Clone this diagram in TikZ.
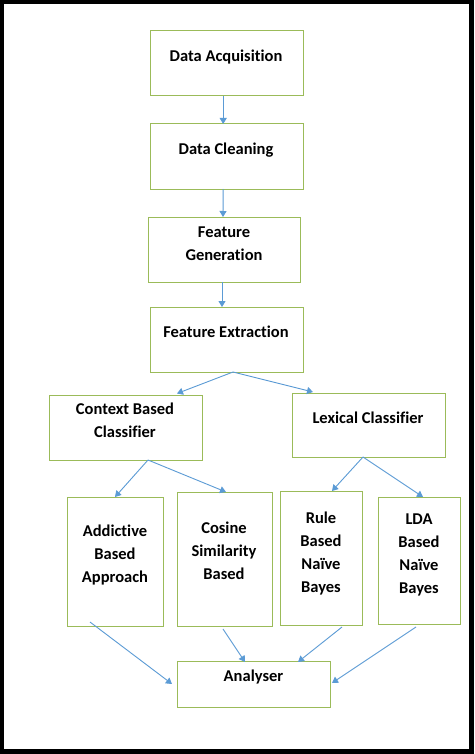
\documentclass[tikz,border=0pt]{standalone}
\usepackage{fontspec}
\setmainfont{Carlito}[Ligatures={NoCommon}]
\usetikzlibrary{arrows.meta}
\definecolor{boxgreen}{HTML}{9BBB59}
\definecolor{arrowblue}{HTML}{5B9BD5}
\begin{document}
\begin{tikzpicture}[x=1pt,y=-1pt,
  box/.style={draw=boxgreen, line width=1pt, fill=white, inner sep=0pt, outer sep=0pt},
  txt/.style={font=\fontsize{16.5}{23}\selectfont\bfseries, align=center, anchor=base, inner sep=0pt},
  arr/.style={draw=arrowblue, line width=0.9pt, -{Triangle[width=7pt,length=6pt]}}]
\useasboundingbox (0,0) rectangle (474,754);
\fill[black] (0,0) rectangle (474,754);
\fill[white] (4,4) rectangle (469,749);
% boxes
\node[box, minimum width=153pt, minimum height=65pt] (da) at (226.5,63.5) {};
\node[box, minimum width=153pt, minimum height=65pt] (dc) at (226.5,156.5) {};
\node[box, minimum width=152pt, minimum height=65pt] (fg) at (224,249.5) {};
\node[box, minimum width=153pt, minimum height=65pt] (fe) at (226.5,339.5) {};
\node[box, minimum width=153pt, minimum height=65pt] (cbc) at (125.5,427.5) {};
\node[box, minimum width=153pt, minimum height=64pt] (lc) at (368.5,425) {};
\node[box, minimum width=96pt, minimum height=129pt] (add) at (115,561.5) {};
\node[box, minimum width=95pt, minimum height=134pt] (cos) at (224.5,559) {};
\node[box, minimum width=82pt, minimum height=134pt] (rule) at (321,558) {};
\node[box, minimum width=82pt, minimum height=127pt] (lda) at (419,560.5) {};
\node[box, minimum width=153pt, minimum height=46pt] (ana) at (253.5,684) {};
% texts (anchor = baseline of the last line)
\node[txt] (daT) at (226,62) {Data Acquisition};
\node[txt] (dcT) at (226,155) {Data Cleaning};
\node[txt] (fgT) at (224,260) {Feature\\Generation};
\node[txt] (feT) at (226,337) {Feature Extraction};
\node[txt] (cbcT) at (125,437) {Context Based\\Classifier};
\node[txt] (lcT) at (368,423) {Lexical Classifier};
\node[txt] (addT) at (115,582) {Addictive\\Based\\Approach};
\node[txt] (cosT) at (224,579) {Cosine\\Similarity\\Based};
\node[txt] (ruleT) at (321,592) {Rule\\Based\\Naïve\\Bayes};
\node[txt] (ldaT) at (419,593) {LDA\\Based\\Naïve\\Bayes};
\node[txt] (anaT) at (253.5,681) {Analyser};
% connectors
\draw[arr] ([xshift=-3.3pt]da.south) -- ([xshift=-3.3pt]dc.north);
\draw[arr] ([xshift=-3.3pt]dc.south) -- ([xshift=-1pt]fg.north);
\draw[arr] ([xshift=-2pt]fg.south) -- ([xshift=-4.5pt]fe.north);
\draw[arr] ([xshift=6.5pt]fe.south) -- ([xshift=51.5pt,yshift=1.5pt]cbc.north);
\draw[arr] ([xshift=6.5pt]fe.south) -- ([xshift=-55.5pt,yshift=1pt]lc.north);
\draw[arr] ([xshift=22.5pt]cbc.south) -- (add.north);
\draw[arr] ([xshift=22.5pt]cbc.south) -- ([xshift=1.5pt]cos.north);
\draw[arr] ([xshift=-5.5pt]lc.south) -- ([xshift=11pt]rule.north);
\draw[arr] ([xshift=-5.5pt]lc.south) -- ([xshift=4pt]lda.north);
\draw[arr] ([xshift=-25pt,yshift=4pt]add.south) -- ([xshift=-5pt]ana.west);
\draw[arr] ([xshift=-1.5pt,yshift=-3pt]cos.south) -- ([xshift=-8.5pt,yshift=-1pt]ana.north);
\draw[arr] ([xshift=21pt,yshift=-2pt]rule.south) -- ([xshift=44.5pt,yshift=-1pt]ana.north);
\draw[arr] ([xshift=-3pt,yshift=-3pt]lda.south) -- ([xshift=2pt,yshift=1pt]ana.east);
\end{tikzpicture}
\end{document}
